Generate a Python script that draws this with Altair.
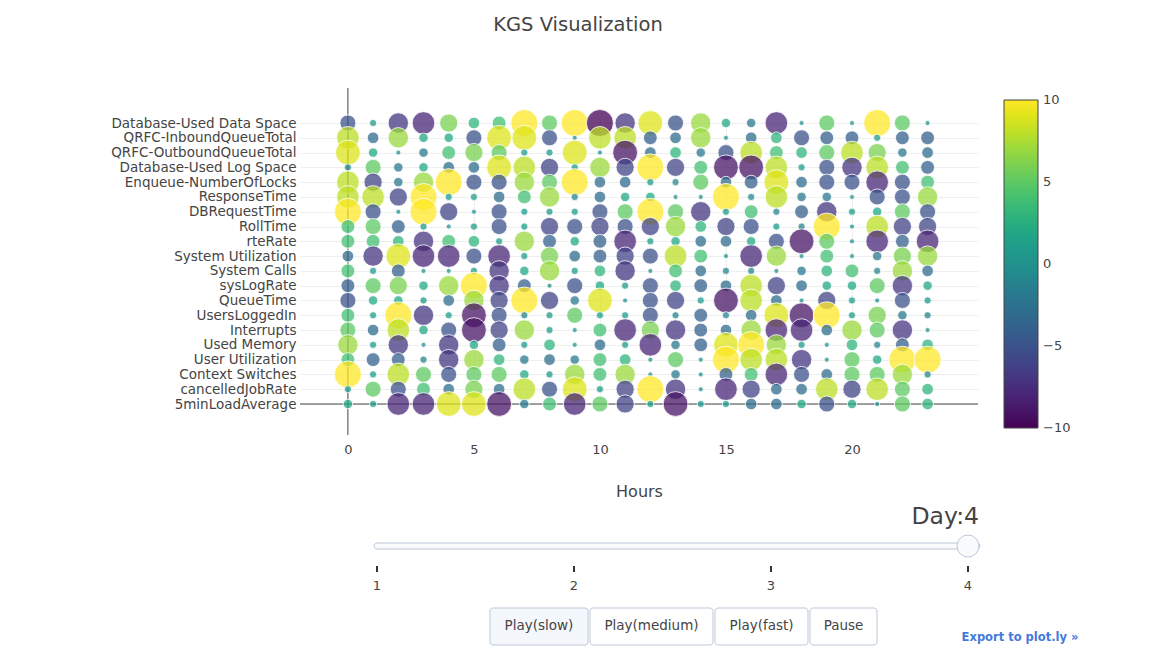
import altair as alt
import pandas as pd

# ---------------- data ----------------
title_text = "KGS Visualization"
metrics = [
    "Database-Used Data Space", "QRFC-InboundQueueTotal", "QRFC-OutboundQueueTotal",
    "Database-Used Log Space", "Enqueue-NumberOfLocks", "ResponseTime", "DBRequestTime",
    "RollTime", "rteRate", "System Utilization", "System Calls", "sysLogRate",
    "QueueTime", "UsersLoggedIn", "Interrupts", "Used Memory", "User Utilization",
    "Context Switches", "cancelledJobRate", "5minLoadAverage",
]
hours = list(range(24))
# one row per metric (top to bottom), one value per hour 0..23
values = [
    [-5, 1, -7, -8, 6, 3, 4, 10, 5, 10, -10, -7, 9, -5, 7, 2, -2, -8, 0, 5, 0, 10, 5, 0],
    [8, -3, 7, 2, 2, -5, 9, 9, -5, 0, 8, 8, -4, -3, 7, 0, -3, 3, -5, -4, -4, 1, -4, -4],
    [9, 2, 0, -2, 4, 6, 5, 1, 1, 9, 0, -9, -3, 3, -2, -5, 8, 4, 3, 5, 8, 6, -2, -3],
    [-1, 5, -2, 2, -3, -3, 9, 8, -6, 1, 7, -6, 10, -6, 4, -9, -9, 8, 1, -5, -7, 8, 4, -4],
    [8, -6, -2, 7, 10, -5, -5, 7, 5, 10, -3, -3, 1, -1, 5, -3, -4, 9, -3, -5, -5, -8, -5, 4],
    [8, 8, -6, 10, 1, 1, -3, 4, 7, -1, -3, 2, 2, 0, 0, 10, -1, 8, -2, -2, 0, -5, -5, 7],
    [10, -5, 0, 10, -6, 0, -5, 1, 1, 1, -5, 5, 10, 5, -7, 1, 4, -1, -4, -7, 1, 2, 5, -5],
    [4, 5, -4, 1, 0, 1, -5, 1, -6, -5, -6, -5, -6, 7, 3, -6, -5, 1, -1, 10, 0, 8, -6, -6],
    [4, 4, 3, -7, 4, 3, 1, 7, -4, 2, -4, -8, 1, 2, -3, -3, 2, -5, -9, 5, 0, -8, -4, -8],
    [-3, -7, 9, -8, -8, -5, -8, 1, 6, -3, -4, -6, -5, 8, 4, 0, -8, 7, 0, 4, 0, -2, 6, 7],
    [4, 1, -4, 0, 0, 1, -7, 2, 7, 1, 3, -7, 0, 4, -3, -1, -1, 0, -2, 3, 4, -1, 7, -3],
    [-4, 5, 6, 2, 7, 10, -7, -4, 0, -5, 2, 1, -5, 3, -4, -3, 8, -6, -3, 2, 2, 5, -7, 2],
    [-5, 2, 2, 1, -3, 7, -6, 10, -6, -2, 9, 0, -5, -6, 1, -9, 8, -3, 0, -6, 1, 0, -5, 1],
    [4, 1, 10, -7, 1, -9, -5, -1, 1, 5, 1, 1, -5, -1, -4, -1, -3, 9, -9, 10, 1, 6, -2, -1],
    [5, -3, 8, 2, -5, -9, -6, 7, 1, 0, 4, -8, 6, -7, -4, -3, 7, -8, -8, -3, 7, 5, -7, 0],
    [7, 1, -7, 0, -7, 2, -4, 1, 3, 0, -3, 1, -8, -2, -4, 9, 10, 7, 1, 0, 3, -1, -4, 3],
    [4, -4, -4, -1, -7, 7, 3, -2, -3, -2, 4, 3, 0, 5, 0, 10, 8, 8, -7, 0, 5, 2, 10, 10],
    [10, 1, 8, 5, -5, 5, 5, 2, 1, 7, 4, 7, 0, -2, 0, -4, 4, -8, -5, -3, 5, 5, 7, -1],
    [1, 5, -5, 4, -3, 6, -3, 8, -5, 9, 1, -6, 10, -7, 0, -8, -6, -3, -3, 8, -6, 8, 5, 3],
    [2, 1, -8, -8, 9, 9, -9, -2, 4, -8, 5, -6, 1, -9, 1, 1, -3, -3, 2, -5, 2, 0, 5, 3],
]
x_ticks = [0, 5, 10, 15, 20]
color_ticks = [-10, -5, 0, 5, 10]
days = [1, 2, 3, 4]
current_day = 4
day_prefix = "Day:"
buttons = ["Play(slow)", "Play(medium)", "Play(fast)", "Pause"]
export_text = "Export to plot.ly \u00bb"
x_title = "Hours"

rows = []
idx = 0
for m, vals in zip(metrics, values):
    for h, v in zip(hours, vals):
        rows.append({"metric": m, "hour": h, "value": v, "idx": idx})
        idx += 1
df = pd.DataFrame(rows)

# ---------------- layout / style ----------------
FONT = "DejaVu Sans"
TXT = "#444444"
W, H = 678, 347
CB_X, CB_Y, CB_LEN, CB_THK = 704, 12, 328, 34

x_scale = alt.Scale(domain=[-1.9, 25.0], nice=False, zero=False)
y_scale = alt.Scale(type="point", range=[35, 316], padding=0)

x_axis = alt.Axis(values=x_ticks, title=x_title, grid=True, gridColor="#eeeeee",
                  domain=False, ticks=False, labelFont=FONT, labelFontSize=13,
                  labelColor=TXT, labelPadding=8, titleFont=FONT, titleFontSize=16,
                  titleColor=TXT, titleFontWeight="normal", titlePadding=27,
                  labelFlush=False)
y_axis = alt.Axis(title=None, grid=True, gridColor="#eeeeee", domain=False, ticks=False,
                  labelFont=FONT, labelFontSize=13.5, labelColor=TXT, labelPadding=4,
                  labelLimit=400)

zero_x = alt.Chart(pd.DataFrame({"hour": [0]})).mark_rule(color=TXT, strokeWidth=1).encode(
    x=alt.X("hour:Q", scale=x_scale, axis=x_axis))
zero_y = alt.Chart(pd.DataFrame({"metric": [metrics[-1]]})).mark_rule(color=TXT, strokeWidth=1).encode(
    y=alt.Y("metric:N", sort=metrics, scale=y_scale, axis=y_axis))

points = alt.Chart(df).transform_calculate(
    sz="pow(abs(datum.value) * 2.2 + 5, 2)"
).mark_circle(fillOpacity=0.75, strokeOpacity=0.8, stroke="white", strokeWidth=1).encode(
    x=alt.X("hour:Q", scale=x_scale, axis=x_axis),
    y=alt.Y("metric:N", sort=metrics, scale=y_scale, axis=y_axis),
    color=alt.Color("value:Q", scale=alt.Scale(scheme="viridis", domain=[-10, 10]),
                    legend=alt.Legend(orient="none", legendX=CB_X, legendY=CB_Y,
                                      direction="vertical", gradientLength=CB_LEN,
                                      gradientThickness=CB_THK, values=color_ticks,
                                      title=None, labelExpr="''", labelFontSize=1,
                                      gradientOpacity=1,
                                      gradientStrokeColor="#444444", gradientStrokeWidth=1)),
    size=alt.Size("sz:Q", scale=None, legend=None),
    order=alt.Order("idx:Q"),
)

one = pd.DataFrame({"k": [0]})


def text_layer(txt, x, y, size, color=TXT, align="center", weight="normal"):
    return alt.Chart(pd.DataFrame({"t": [txt]})).mark_text(
        font=FONT, fontSize=size, color=color, align=align, baseline="middle",
        fontWeight=weight).encode(x=alt.value(x), y=alt.value(y), text="t:N")


layers = [zero_x, zero_y, points]

# colorbar tick labels
for v in color_ticks:
    lab = str(v).replace("-", "\u2212")
    layers.append(text_layer(lab, CB_X + CB_THK + 5, CB_Y + (10 - v) / 20 * CB_LEN, 13,
                             align="left"))

# title
layers.append(text_layer(title_text, 278, -63, 19.5))

# slider track and handle
layers.append(alt.Chart(one).mark_rect(fill="#f8fafc", stroke="#bec8d9", strokeWidth=1,
                                       cornerRadius=3).encode(
    x=alt.value(74), x2=alt.value(680), y=alt.value(455), y2=alt.value(461)))
slider_left, slider_step = 77, 197
layers.append(alt.Chart(one).mark_point(shape="circle", filled=True, fill="#f8fafc",
                                        stroke="#bec8d9", strokeWidth=1, opacity=1,
                                        size=484).encode(
    x=alt.value(slider_left + (current_day - 1) * slider_step), y=alt.value(458)))
for d in days:
    px = slider_left + (d - 1) * slider_step
    layers.append(alt.Chart(one).mark_rule(color="#333333", strokeWidth=2).encode(
        x=alt.value(px), y=alt.value(478), y2=alt.value(484)))
    layers.append(text_layer(str(d), px, 498, 13))
layers.append(text_layer(f"{day_prefix}{current_day}", 679, 429, 23.5, align="right"))

# buttons
button_edges = [(190, 288), (290, 413), (415, 508), (510, 577)]
for i, (lab, (x0, x1)) in enumerate(zip(buttons, button_edges)):
    layers.append(alt.Chart(one).mark_rect(fill="#f4f7fc" if i == 0 else "#ffffff",
                                           stroke="#bec8d9", strokeWidth=1,
                                           cornerRadius=3).encode(
        x=alt.value(x0), x2=alt.value(x1), y=alt.value(520), y2=alt.value(557)))
    layers.append(text_layer(lab, (x0 + x1) / 2, 538, 13.5))

layers.append(text_layer(export_text, 720, 550, 11.5, color="#447adb", weight="bold"))

chart = alt.layer(*layers).properties(
    width=W, height=H,
    autosize=alt.AutoSizeParams(type="none"),
    padding={"left": 292, "top": 80, "right": 180, "bottom": 220},
).configure_view(strokeWidth=0)

chart.save("out.html", embed_options={"renderer": "svg", "actions": False})
